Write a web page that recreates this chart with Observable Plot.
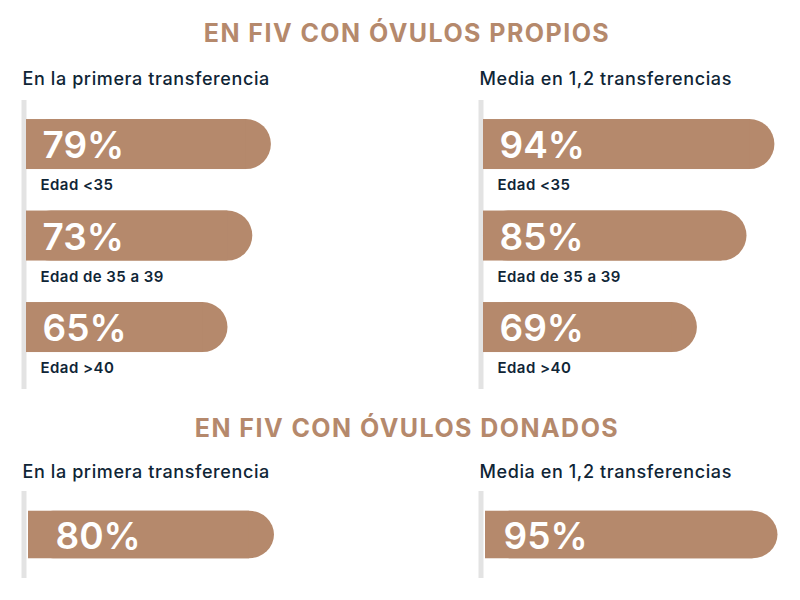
<!DOCTYPE html>
<html>
<head>
<meta charset="utf-8">
<script src="https://cdn.jsdelivr.net/npm/d3@7"></script>
<script src="https://cdn.jsdelivr.net/npm/@observablehq/plot@0.6"></script>
<style>
  html, body { margin: 0; padding: 0; background: #ffffff; }
  #root { position: relative; width: 800px; height: 600px; overflow: hidden; font-family: Inter, "Open Sans", sans-serif; }
  .title { position: absolute; left: 7px; width: 800px; text-align: center; color: #b5896c;
           font-weight: 700; font-size: 25px; line-height: 25px; letter-spacing: 1.45px; white-space: nowrap; }
  .plot { position: absolute; left: 0; }
  .plot svg { overflow: visible; }
  .plot g[font-size="18"] { letter-spacing: 0.6px; }
  .plot g[font-size="15"] { letter-spacing: 0.45px; }
</style>
</head>
<body>
<div id="root"></div>
<script>
// ---- data ----
const sectionTitles = ["EN FIV CON ÓVULOS PROPIOS", "EN FIV CON ÓVULOS DONADOS"];
const columnTitles = ["En la primera transferencia", "Media en 1,2 transferencias"];
const ageGroups = ["Edad <35", "Edad de 35 a 39", "Edad >40"];
const propiosPrimera = [79, 73, 65];
const propiosMedia = [94, 85, 69];
const donadosGroups = ["Todas"];
const donadosPrimera = [80];
const donadosMedia = [95];

// ---- styles ----
const BAR = "#b5896c", INK = "#0f2536", RAIL = "#e3e3e3";
const FONT = "Inter, 'Open Sans', sans-serif";

function rowsFor(groups, primera, media) {
  return [
    ...groups.map((g, i) => ({col: columnTitles[0], group: g, value: primera[i]})),
    ...groups.map((g, i) => ({col: columnTitles[1], group: g, value: media[i]}))
  ];
}

function section(o) {
  const left = o.rows.filter(d => d.col === columnTitles[0]);
  const right = o.rows.filter(d => d.col === columnTitles[1]);
  const marks = [
    Plot.ruleX([0], {stroke: RAIL, strokeWidth: 5, dx: -2.5}),
    Plot.barX(o.rows, {fx: "col", y: "group", x1: 0, x2: "value", fill: BAR, rx: 25, insetLeft: o.insetLeft}),
    Plot.barX(o.rows, {fx: "col", y: "group", x1: 0, x2: "value", fill: BAR, insetRight: 25, insetLeft: o.insetLeft}),
    Plot.text(columnTitles, {fx: d => d, text: d => d, frameAnchor: "top-left", lineAnchor: "middle",
      textAnchor: "start", dx: -4, dy: o.subDy, fill: INK, fontSize: 18, fontWeight: 500, fontFamily: FONT}),
    Plot.text(left, {fx: "col", y: "group", text: d => `${d.value}%`, frameAnchor: "left", textAnchor: "start",
      lineAnchor: "middle", dx: o.labelDx[0], dy: 2, fill: "white", fontSize: 37, fontWeight: 600, fontFamily: FONT}),
    Plot.text(right, {fx: "col", y: "group", text: d => `${d.value}%`, frameAnchor: "left", textAnchor: "start",
      lineAnchor: "middle", dx: o.labelDx[1], dy: 2, fill: "white", fontSize: 37, fontWeight: 600, fontFamily: FONT})
  ];
  if (o.showAge) {
    marks.push(Plot.text(o.rows, {fx: "col", y: "group", text: "group", frameAnchor: "left", textAnchor: "start",
      lineAnchor: "middle", dx: 14, dy: 41, fill: INK, fontSize: 15, fontWeight: 600, fontFamily: FONT}));
  }
  return Plot.plot({
    width: 800, height: o.height,
    marginLeft: 26, marginRight: 7, marginTop: o.marginTop, marginBottom: o.marginBottom,
    style: {fontFamily: FONT, background: "transparent"},
    fx: {domain: columnTitles, paddingInner: 0.3217, paddingOuter: 0, round: false, axis: null},
    x: {domain: [0, 100], axis: null},
    y: {domain: o.groups, paddingInner: 0.4536, paddingOuter: o.padOuter, align: o.align, round: false, axis: null},
    marks
  });
}

const root = document.getElementById("root");
function addTitle(text, top) {
  const d = document.createElement("div");
  d.className = "title"; d.textContent = text; d.style.top = top + "px";
  root.appendChild(d);
}
function addPlot(svg, top) {
  const d = document.createElement("div");
  d.className = "plot"; d.style.top = top + "px";
  d.appendChild(svg); root.appendChild(d);
}

addTitle(sectionTitles[0], 21);
addPlot(section({
  rows: rowsFor(ageGroups, propiosPrimera, propiosMedia), groups: ageGroups,
  height: 340, marginTop: 40, marginBottom: 11, padOuter: 0.306, align: 0.34,
  subDy: -21.7, labelDx: [16, 16], insetLeft: 0, showAge: true
}), 60);

addTitle(sectionTitles[1], 416);
addPlot(section({
  rows: rowsFor(donadosGroups, donadosPrimera, donadosMedia), groups: donadosGroups,
  height: 150, marginTop: 41, marginBottom: 22, padOuter: 0.2023, align: 0.5,
  subDy: -19.7, labelDx: [29, 20], insetLeft: 2, showAge: false
}), 450);
</script>
</body>
</html>
